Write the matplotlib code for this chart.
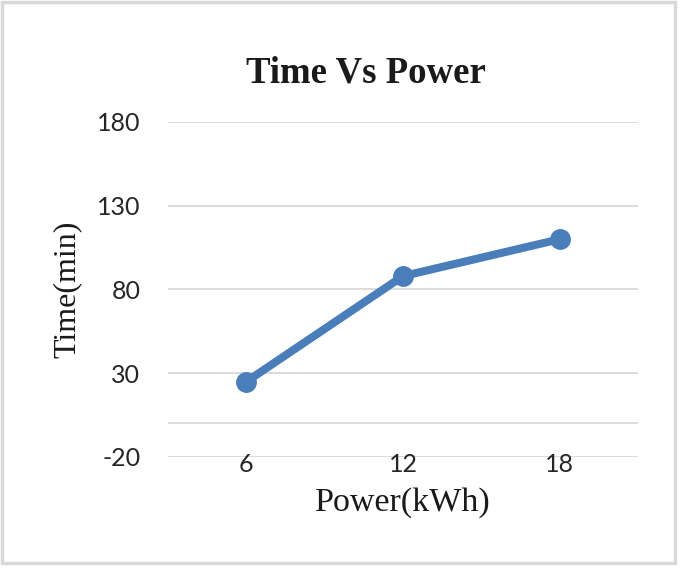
import matplotlib.pyplot as plt
from matplotlib.patches import Rectangle

plt.rcParams["axes.unicode_minus"] = False

power = ["6", "12", "18"]
time_min = [25, 88, 110]
y_ticks = [-20, 30, 80, 130, 180]

fig = plt.figure(figsize=(6.85, 5.76), dpi=100)
ax = fig.add_axes([0.2453, 0.2066, 0.6861, 0.5816])

# light frame round the whole chart
fig.patches.append(Rectangle((0.003, 0.023), 0.982, 0.973, transform=fig.transFigure,
                             fill=False, edgecolor="#d9d9d9", linewidth=2.5))

x = range(len(power))
for t in y_ticks:
    ax.axhline(t, color="#d9d9d9", linewidth=1.3, zorder=0)
ax.axhline(0, color="#d9d9d9", linewidth=1.3, zorder=0)

ax.plot(x, time_min, color="#4a7ebb", linewidth=5.8, marker="o", markersize=14,
        solid_capstyle="round", zorder=3)

ax.set_xlim(-0.5, 2.5)
ax.set_ylim(-20, 180)
ax.set_xticks(list(x))
ax.set_xticklabels(power)
ax.set_yticks(y_ticks)
for s in ax.spines.values():
    s.set_visible(False)
ax.tick_params(length=0)
ax.tick_params(axis="x", pad=-3)
ax.tick_params(axis="y", pad=20)
for lab in ax.get_xticklabels() + ax.get_yticklabels():
    lab.set_fontfamily("Lato")
    lab.set_fontsize(18)
    lab.set_color("#262626")

fig.text(366 / 685, 1 - 73 / 576, "Time Vs Power", fontfamily="Liberation Serif",
         fontweight="bold", fontsize=26.5, color="#1a1a1a", ha="center", va="center")
ax.set_xlabel("Power(kWh)", fontfamily="Liberation Serif", fontsize=24.5,
              color="#1a1a1a", labelpad=8)
ax.set_ylabel("Time(min)", fontfamily="Liberation Serif", fontsize=23,
              color="#1a1a1a", labelpad=11)

fig.savefig("out.png", dpi=100)
